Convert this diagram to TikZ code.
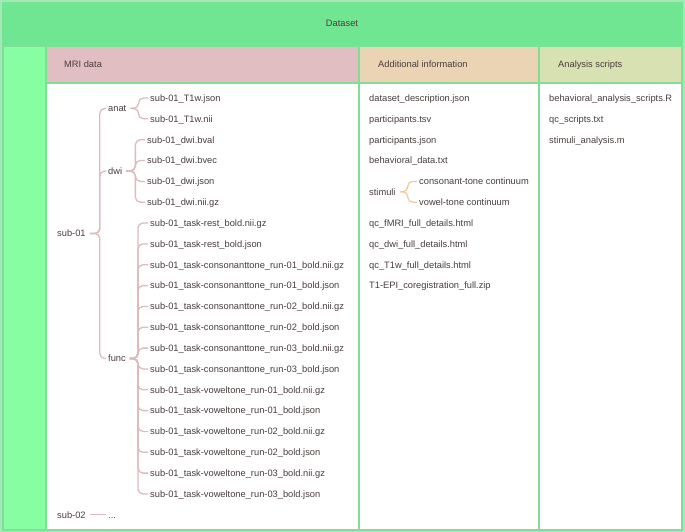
\documentclass[tikz,border=0pt]{standalone}
\usepackage{fontspec}
\setmainfont{Liberation Sans}
\usepackage{tikz}
\usetikzlibrary{positioning}

\definecolor{dataset}{HTML}{70E592}
\definecolor{side}{HTML}{87FEA1}
\definecolor{border}{HTML}{7FDE98}
\definecolor{mrihead}{HTML}{E1BEC2}
\definecolor{addhead}{HTML}{EAD4B4}
\definecolor{anahead}{HTML}{D8E1B2}
\definecolor{txt}{HTML}{4A3D3D}
\definecolor{mrilink}{HTML}{DDBBBF}
\definecolor{stimlink}{HTML}{EDCE9F}

\begin{document}
\begin{tikzpicture}[x=1pt, y=-1pt,
      cell/.style={draw=border, line width=1.5pt},
      file/.style={anchor=west, inner sep=2pt, text height=6.7pt, text depth=0pt,
        font=\fontsize{9.3}{11}\selectfont, text=txt},
      title/.style={file, anchor=center},
      link/.style={draw=mrilink, line width=1.3pt, rounded corners=5pt, shorten <=2pt},
      stimuli link/.style={link, draw=stimlink}]
      \useasboundingbox (0,0) rectangle (685,532);
      % frame and columns
      \draw[cell, draw=border!70!white, fill=dataset] (1,1) rectangle (684,531);
      \draw[cell, fill=side] (3,46) rectangle (46,530);
      \draw[cell, fill=mrihead] (46,46) rectangle (359,83);
      \draw[cell, fill=addhead] (359,46) rectangle (539,83);
      \draw[cell, fill=anahead] (539,46) rectangle (682,83);
      \draw[cell, fill=white] (46,83) rectangle (359,530);
      \draw[cell, fill=white] (359,83) rectangle (539,530);
      \draw[cell, fill=white] (539,83) rectangle (682,530);

      \node[title] (dataset) at (342,23) {Dataset};
      \node[file] (mri) at (62,64) {MRI data};
      \node[file] (additional) at (376,64) {Additional information};
      \node[file] (analysis) at (556,64) {Analysis scripts};

      % MRI data
      \node[file] (sub01) at (55,233.5) {sub-01};
      \node[file] (anat) at (106,108.4) {anat};
      \node[file] (dwi) at (106,171) {dwi};
      \node[file] (func) at (106,358.5) {func};

      \node[file] (t1json) at (148,98) {sub-01\_T1w.json};
      \node[file] (t1nii) at (148,118.8) {sub-01\_T1w.nii};

      \node[file] (bval) at (145,139.7) {sub-01\_dwi.bval};
      \node[file] (bvec) at (145,160.5) {sub-01\_dwi.bvec};
      \node[file] (dwijson) at (145,181.4) {sub-01\_dwi.json};
      \node[file] (dwinii) at (145,202.2) {sub-01\_dwi.nii.gz};

      \node[file] (restnii) at (148,223) {sub-01\_task-rest\_bold.nii.gz};
      \node[file] (restjson) at (148,243.9) {sub-01\_task-rest\_bold.json};
      \node[file] (cnsnii1) at (148,264.7) {sub-01\_task-consonanttone\_run-01\_bold.nii.gz};
      \node[file] (cnsjson1) at (148,285.6) {sub-01\_task-consonanttone\_run-01\_bold.json};
      \node[file] (cnsnii2) at (148,306.4) {sub-01\_task-consonanttone\_run-02\_bold.nii.gz};
      \node[file] (cnsjson2) at (148,327.2) {sub-01\_task-consonanttone\_run-02\_bold.json};
      \node[file] (cnsnii3) at (148,348.1) {sub-01\_task-consonanttone\_run-03\_bold.nii.gz};
      \node[file] (cnsjson3) at (148,368.9) {sub-01\_task-consonanttone\_run-03\_bold.json};
      \node[file] (vownii1) at (148,389.8) {sub-01\_task-voweltone\_run-01\_bold.nii.gz};
      \node[file] (vowjson1) at (148,410.6) {sub-01\_task-voweltone\_run-01\_bold.json};
      \node[file] (vownii2) at (148,431.4) {sub-01\_task-voweltone\_run-02\_bold.nii.gz};
      \node[file] (vowjson2) at (148,452.3) {sub-01\_task-voweltone\_run-02\_bold.json};
      \node[file] (vownii3) at (148,473.1) {sub-01\_task-voweltone\_run-03\_bold.nii.gz};
      \node[file] (vowjson3) at (148,494) {sub-01\_task-voweltone\_run-03\_bold.json};

      \node[file] (sub02) at (55,514.8) {sub-02};
      \node[file] (more) at (106,514.8) {...};

      \draw[link] (sub01.east) -- ++(12,0) |- (anat.west);
      \draw[link] (sub01.east) -- ++(12,0) |- (dwi.west);
      \draw[link] (sub01.east) -- ++(12,0) |- (func.west);

      \draw[link] (anat.east) -- ++(10,0) |- (t1json.west);
      \draw[link] (anat.east) -- ++(10,0) |- (t1nii.west);

      \draw[link] (dwi.east) -- ++(11,0) |- (bval.west);
      \draw[link] (dwi.east) -- ++(11,0) |- (bvec.west);
      \draw[link] (dwi.east) -- ++(11,0) |- (dwijson.west);
      \draw[link] (dwi.east) -- ++(11,0) |- (dwinii.west);

      \draw[link] (func.east) -- ++(10,0) |- (restnii.west);
      \draw[link] (func.east) -- ++(10,0) |- (restjson.west);
      \draw[link] (func.east) -- ++(10,0) |- (cnsnii1.west);
      \draw[link] (func.east) -- ++(10,0) |- (cnsjson1.west);
      \draw[link] (func.east) -- ++(10,0) |- (cnsnii2.west);
      \draw[link] (func.east) -- ++(10,0) |- (cnsjson2.west);
      \draw[link] (func.east) -- ++(10,0) |- (cnsnii3.west);
      \draw[link] (func.east) -- ++(10,0) |- (cnsjson3.west);
      \draw[link] (func.east) -- ++(10,0) |- (vownii1.west);
      \draw[link] (func.east) -- ++(10,0) |- (vowjson1.west);
      \draw[link] (func.east) -- ++(10,0) |- (vownii2.west);
      \draw[link] (func.east) -- ++(10,0) |- (vowjson2.west);
      \draw[link] (func.east) -- ++(10,0) |- (vownii3.west);
      \draw[link] (func.east) -- ++(10,0) |- (vowjson3.west);

      \draw[link] (sub02.east) -- (more.west);

      % Additional information
      \node[file] (description) at (367,98) {dataset\_description.json};
      \node[file] (partsv) at (367,118.8) {participants.tsv};
      \node[file] (parjson) at (367,139.7) {participants.json};
      \node[file] (behav) at (367,160.5) {behavioral\_data.txt};
      \node[file] (stimuli) at (367,191.8) {stimuli};
      \node[file] (consonant) at (417,181.4) {consonant-tone continuum};
      \node[file] (vowel) at (417,202.2) {vowel-tone continuum};
      \node[file] (qcfmri) at (367,223) {qc\_fMRI\_full\_details.html};
      \node[file] (qcdwi) at (367,243.9) {qc\_dwi\_full\_details.html};
      \node[file] (qct1w) at (367,264.7) {qc\_T1w\_full\_details.html};
      \node[file] (coreg) at (367,285.6) {T1-EPI\_coregistration\_full.zip};

      \draw[stimuli link] (stimuli.east) -- ++(10,0) |- (consonant.west);
      \draw[stimuli link] (stimuli.east) -- ++(10,0) |- (vowel.west);

      % Analysis scripts
      \node[file] (behavscripts) at (547,98) {behavioral\_analysis\_scripts.R};
      \node[file] (qcscripts) at (547,118.8) {qc\_scripts.txt};
      \node[file] (stimanalysis) at (547,139.7) {stimuli\_analysis.m};
    \end{tikzpicture}
\end{document}
